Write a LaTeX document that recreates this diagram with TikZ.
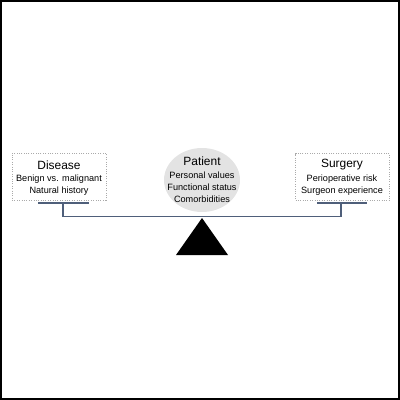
\documentclass[tikz,border=0pt]{standalone}
\usepackage{fontspec}
\setmainfont{Liberation Sans}
\usetikzlibrary{shapes.geometric}
\definecolor{beam}{HTML}{4F5F7A}
\definecolor{boxline}{HTML}{AAAAAA}
\definecolor{pfill}{HTML}{E3E3E3}
\tikzset{
  px/.style={x=0.025cm,y=-0.025cm},
  factor/.style={draw=boxline,densely dotted,line width=0.7pt,minimum width=94*0.025cm,minimum height=47*0.025cm,inner sep=0pt,align=center,fill=white},
  ttl/.style={font=\fontsize{8.5}{10}\selectfont},
  sub/.style={font=\fontsize{6.5}{8.4}\selectfont},
  beamline/.style={draw=beam,line width=0.9pt},
  barline/.style={draw=beam,line width=1.5pt},
}
\begin{document}
\begin{tikzpicture}[px]
\useasboundingbox (0,0) rectangle (400,400);
\draw[line width=1.6pt] (0.6,0.6) rectangle (399.4,399.4);
% boxes
\node[factor] (dis) at (59,176.5) {};
\node[factor] (sur) at (342.5,177) {};
\node[ttl] (dist) at (59,165) {Disease};
\node[sub,align=center] (diss) at (59,185) {Benign vs. malignant\\Natural history};
\node[ttl] (surt) at (342,165) {Surgery};
\node[sub,align=center] (surs) at (342,185) {Perioperative risk\\Surgeon experience};
% patient
\node[ellipse,fill=pfill,minimum width=76*0.025cm,minimum height=64*0.025cm,inner sep=0pt] (pat) at (202,180) {};
\node[ttl] (patt) at (202,161) {Patient};
\node[sub,align=center] (pats) at (202,187) {Personal values\\Functional status\\Comorbidities};
% bars
\coordinate (dl) at (38,203);
\coordinate (dr) at (89,203);
\coordinate (sl) at (317,203);
\coordinate (sr) at (367,203);
\draw[barline] (dl) -- (dr);
\draw[barline] (sl) -- (sr);
\coordinate (dp) at (63,203);
\coordinate (sp) at (341,203);
\coordinate (db) at (63,216.5);
\coordinate (sb) at (341,216.5);
\draw[beamline] (dp) -- (db) -- (sb) -- (sp);
% fulcrum
\coordinate (apex) at (202,218);
\coordinate (bl) at (176,255);
\coordinate (br) at (228,255);
\fill[black] (apex) -- (bl) -- (br) -- cycle;
\end{tikzpicture}
\end{document}
